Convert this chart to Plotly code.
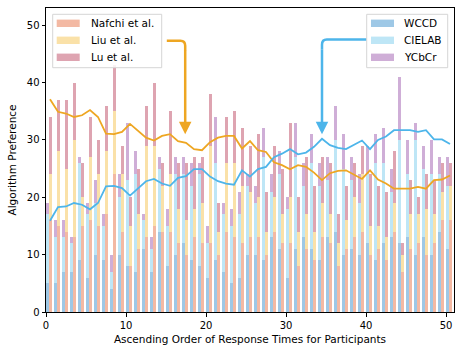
import plotly.graph_objects as go

participants = list(range(51))

# Left group (stacked): Nafchi, Liu, Lu
nafchi = [16,15,14,13,15,16,15,17,24,14,8,11,13,15,14,14,12,10,13,12,12,10,14,13,12,13,
          13,10,14,12,12,8,11,9,13,12,8,11,13,14,10,11,9,14,7,11,12,10,12,16,16]
liu    = [8,13,11,17,5,11,9,11,11,10,7,6,16,14,8,10,6,6,5,7,17,4,12,13,10,8,
          7,4,6,5,8,6,6,5,6,5,4,5,7,10,5,4,4,5,3,6,5,8,5,5,6]
lu     = [10,9,12,10,6,7,6,8,8,5,5,8,7,11,4,11,8,10,9,8,9,5,8,9,10,8,
          11,7,9,8,13,6,10,8,8,9,5,6,6,5,9,7,8,9,2,6,3,6,6,5,4]
# Right group (stacked): WCCD, CIELAB, YCbCr
wccd   = [5,5,7,7,9,6,10,9,4,10,8,7,11,7,14,8,10,12,9,8,6,9,7,5,6,10,
          10,9,13,11,6,11,13,11,9,13,14,10,11,10,12,9,12,13,12,13,10,13,10,14,11]
cielab = [12,8,6,5,17,11,9,6,3,10,15,17,5,4,11,7,14,12,13,16,6,17,10,10,11,12,
          9,18,8,13,12,16,9,15,13,10,16,15,12,9,12,17,14,8,18,11,20,12,14,10,11]
ycbcr  = [2,3,3,1,1,2,4,2,3,4,10,4,1,2,2,3,3,3,4,2,3,8,2,3,4,2,
          3,5,3,4,2,6,4,5,4,4,6,6,4,5,5,5,6,4,11,6,3,4,6,3,5]

# Smoothed trend lines
left_trend  = [37.1,34.9,34.6,34.0,34.3,35.2,34.0,31.1,31.0,31.4,32.8,31.6,30.4,29.9,30.7,31.0,29.8,29.5,28.4,28.2,
               29.6,30.4,30.7,30.7,28.5,29.8,28.2,27.9,26.1,25.6,24.9,25.6,25.3,24.3,23.0,24.2,24.6,24.7,24.0,23.2,
               24.7,23.1,22.4,21.5,21.5,21.5,21.8,21.5,23.0,23.1,23.8]
right_trend = [15.9,18.3,18.4,19.0,18.7,17.9,19.0,21.9,22.0,21.6,20.3,21.6,22.8,23.2,22.4,22.0,23.4,23.7,24.9,24.9,
               23.6,22.8,22.4,22.2,24.7,23.6,24.9,25.3,27.0,27.6,28.4,27.5,27.8,28.8,30.2,29.1,28.6,28.4,29.2,29.9,
               28.4,30.0,30.6,31.7,31.7,31.7,31.4,31.7,30.1,30.1,29.3]

left_names = ["Nafchi et al.", "Liu et al.", "Lu et al."]
right_names = ["WCCD", "CIELAB", "YCbCr"]

C_NAF, C_LIU, C_LU = "#F3B9A3", "#FAE1A8", "#DEA4B1"
C_WCCD, C_CIE, C_YCC = "#9EC8E6", "#BEE6F6", "#CFAED7"
C_ORANGE, C_BLUE = "#EEA622", "#4DB5EA"

W, H = 463, 356
ML, MR, MT, MB = 46, 9, 8, 44
PW, PH = W - ML - MR, H - MT - MB


def px(xp):
    return (xp - ML) / PW


def py(yp):
    return (H - MB - yp) / PH


BW = 0.4
x_right = [p + BW / 2 for p in participants]
x_left = [p + BW * 1.5 for p in participants]
x_line = [p + 0.5 for p in participants]

fig = go.Figure()
for name, vals, col in zip(left_names, [nafchi, liu, lu], [C_NAF, C_LIU, C_LU]):
    fig.add_trace(go.Bar(x=x_left, y=vals, width=BW, name=name, marker=dict(color=col, line=dict(width=0)),
                         showlegend=False))
for name, vals, col in zip(right_names, [wccd, cielab, ycbcr], [C_WCCD, C_CIE, C_YCC]):
    fig.add_trace(go.Bar(x=x_right, y=vals, width=BW, name=name, marker=dict(color=col, line=dict(width=0)),
                         showlegend=False))

fig.add_trace(go.Scatter(x=x_line, y=left_trend, mode="lines", line=dict(color=C_ORANGE, width=1.8),
                         showlegend=False))
fig.add_trace(go.Scatter(x=x_line, y=right_trend, mode="lines", line=dict(color=C_BLUE, width=1.8),
                         showlegend=False))

# Callout arrows
fig.add_shape(type="path", path="M 15.1,47.3 L 16.8,47.3 Q 17.4,47.3 17.4,46.4 L 17.4,45.5",
              xref="x", yref="y", line=dict(color=C_ORANGE, width=2.5))
fig.add_annotation(x=17.4, y=31.0, ax=17.4, ay=45.8, xref="x", yref="y", axref="x", ayref="y",
                   text="", showarrow=True, arrowhead=2, arrowsize=1, arrowwidth=2.5, arrowcolor=C_ORANGE)
fig.add_shape(type="path", path="M 40.1,47.5 L 35.1,47.5 Q 34.5,47.5 34.5,46.6 L 34.5,45.7",
              xref="x", yref="y", line=dict(color=C_BLUE, width=2.5))
fig.add_annotation(x=34.5, y=31.0, ax=34.5, ay=46.0, xref="x", yref="y", axref="x", ayref="y",
                   text="", showarrow=True, arrowhead=2, arrowsize=1, arrowwidth=2.5, arrowcolor=C_BLUE)


# Custom legends (matplotlib-like boxes with wide patches)
def legend_box(x0, x1, y0, y1, names, colors, patch_x0, text_x):
    fig.add_shape(type="rect", xref="paper", yref="paper", x0=px(x0), x1=px(x1), y0=py(y1), y1=py(y0),
                  line=dict(color="#D5D5D5", width=1), fillcolor="rgba(255,255,255,0.85)", layer="above")
    for k, (nm, col) in enumerate(zip(names, colors)):
        yc = 23.3 + k * 17.0
        fig.add_shape(type="rect", xref="paper", yref="paper", x0=px(patch_x0), x1=px(patch_x0 + 23),
                      y0=py(yc + 3.7), y1=py(yc - 3.7), line=dict(width=0), fillcolor=col, layer="above")
        fig.add_annotation(x=px(text_x), y=py(yc), xref="paper", yref="paper", text=nm, showarrow=False,
                           xanchor="left", yanchor="middle", font=dict(family="DejaVu Sans", size=10.5))


legend_box(52.7, 161.7, 14.3, 67.7, left_names, [C_NAF, C_LIU, C_LU], 56.7, 88.5)
legend_box(366.7, 447.7, 14.3, 67.7, right_names, [C_WCCD, C_CIE, C_YCC], 371.0, 402.0)

font = dict(family="DejaVu Sans", size=10, color="black")
fig.update_layout(
    width=W, height=H,
    margin=dict(l=ML, r=MR, t=MT, b=MB),
    barmode="stack", bargap=0,
    plot_bgcolor="white", paper_bgcolor="white",
    font=font,
    showlegend=False,
    xaxis=dict(range=[0, 51], tickvals=[0, 10, 20, 30, 40, 50], showline=True, linecolor="black", linewidth=1,
               mirror=True, ticks="outside", ticklen=3.5, tickcolor="black", showgrid=False, zeroline=False,
               automargin=False,
               title=dict(text="Ascending Order of Response Times for Participants", standoff=6,
                          font=dict(family="DejaVu Sans", size=10.5))),
    yaxis=dict(range=[0, 53], tickvals=[0, 10, 20, 30, 40, 50], showline=True, linecolor="black", linewidth=1,
               mirror=True, ticks="outside", ticklen=3.5, tickcolor="black", showgrid=False, zeroline=False,
               automargin=False,
               title=dict(text="Algorithm Preference", standoff=8, font=dict(family="DejaVu Sans", size=10.5))),
)

fig.write_html("out.html", config={"displayModeBar": False},
               post_script="document.body.style.margin='0px';document.body.style.padding='0px';")
